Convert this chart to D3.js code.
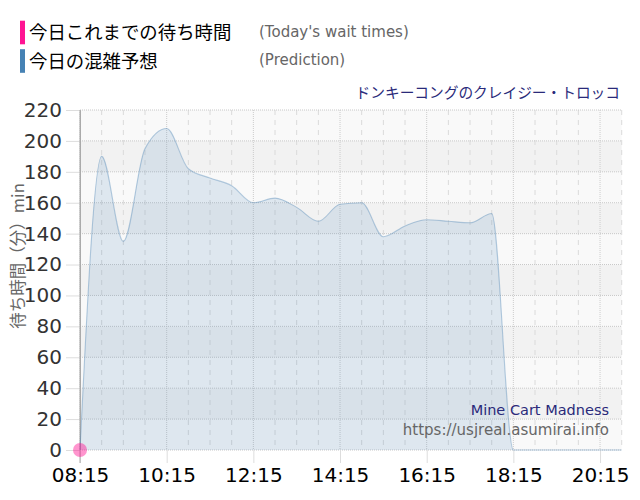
<!DOCTYPE html>
<html>
<head>
<meta charset="utf-8">
<script src="https://cdn.jsdelivr.net/npm/d3@7"></script>
<style>
html,body{margin:0;padding:0;background:#fff;}
svg{display:block;}
</style>
</head>
<body>
<svg id="chart" width="640" height="500"></svg>
<script>
// ---- data ----
const times = ["08:15","08:45","09:15","09:45","10:15","10:45","11:15","11:45","12:15","12:45","13:15","13:45","14:15","14:45","15:15","15:45","16:15","16:45","17:15","17:45","18:15","18:45","19:15","19:45","20:15","20:45"];
const prediction = [0,190,135,195,208,182,176,171,160,163,157,148,159,160,138,145,149,148,147,153,0,0,0,0,0,0];
const actualTimes = ["08:15"];
const actualValues = [0];
const xTickLabels = ["08:15","10:15","12:15","14:15","16:15","18:15","20:15"];
const yTicks = [0,20,40,60,80,100,120,140,160,180,200,220];
const legendJa = ["今日これまでの待ち時間","今日の混雑予想"];
const legendEn = ["(Today's wait times)","(Prediction)"];
const legendColors = ["#ff1493","#4682b4"];
const title = "ドンキーコングのクレイジー・トロッコ";
const yTitle = "待ち時間（分）min";
const watermark1 = "Mine Cart Madness";
const watermark2 = "https://usjreal.asumirai.info";

const toMin = s => { const [h,m] = s.split(":").map(Number); return h*60+m; };

const svg = d3.select("#chart");
const L = 80, R = 621.7, T = 110, B = 450;
const x = d3.scaleLinear().domain([toMin("08:15"), toMin("20:45")]).range([L, R]);
const y = d3.scaleLinear().domain([0, 220]).range([B, T]);

const latin = "'DejaVu Sans', Verdana, sans-serif";
const cjk = "'Noto Sans CJK JP', 'DejaVu Sans', sans-serif";

// background bands
const bands = d3.range(0, 220, 20);
svg.append("g").selectAll("rect").data(bands).join("rect")
  .attr("x", L).attr("width", R - L)
  .attr("y", d => y(d + 20)).attr("height", d => y(d) - y(d + 20))
  .attr("fill", (d, i) => i % 2 === 0 ? "#f9f9f9" : "#f2f2f2");

// vertical dashed grid every 30 min
const halfHours = d3.range(toMin("08:15"), toMin("20:45") + 1, 30);
svg.append("g").selectAll("line").data(halfHours.filter((d,i)=> i%4!==0)).join("line")
  .attr("x1", d => x(d)).attr("x2", d => x(d)).attr("y1", T).attr("y2", B)
  .attr("stroke", "#dadada").attr("stroke-width", 1).attr("stroke-dasharray", "5,5");

// vertical dotted grid at label ticks
svg.append("g").selectAll("line").data(xTickLabels.map(toMin)).join("line")
  .attr("x1", d => x(d)).attr("x2", d => x(d)).attr("y1", T).attr("y2", B)
  .attr("stroke", "#cccccc").attr("stroke-width", 1).attr("stroke-dasharray", "1,1");

// horizontal dotted grid
svg.append("g").selectAll("line").data(yTicks).join("line")
  .attr("x1", L).attr("x2", R).attr("y1", d => y(d)).attr("y2", d => y(d))
  .attr("stroke", "#c8c8c8").attr("stroke-width", 1).attr("stroke-dasharray", "1,1");

// y axis
const yAxis = svg.append("g").attr("transform", `translate(${L},0)`)
  .call(d3.axisLeft(y).tickValues(yTicks).tickSize(14).tickPadding(4));
yAxis.select(".domain").attr("stroke", "#aaaaaa");
yAxis.selectAll(".tick line").attr("stroke", "#dddddd");
yAxis.selectAll("text").attr("font-family", latin).attr("font-size", 20).attr("fill", "#333");

// x axis
const xAxis = svg.append("g").attr("transform", `translate(0,${B})`)
  .call(d3.axisBottom(x).tickValues(xTickLabels.map(toMin)).tickSize(13).tickPadding(5)
    .tickFormat((d, i) => xTickLabels[i]));
xAxis.select(".domain").remove();
xAxis.selectAll(".tick line").attr("stroke", "#dddddd");
xAxis.selectAll("text").attr("font-family", latin).attr("font-size", 20).attr("fill", "#000");

// left axis line extending
svg.append("line").attr("x1", L).attr("x2", L).attr("y1", T).attr("y2", B + 13)
  .attr("stroke", "#aaaaaa");

// prediction area
const pts = times.map((t, i) => ({t: toMin(t), v: prediction[i]}));
const area = d3.area().x(d => x(d.t)).y0(y(0)).y1(d => y(d.v)).curve(d3.curveMonotoneX);
const line = d3.line().x(d => x(d.t)).y(d => y(d.v)).curve(d3.curveMonotoneX);
svg.append("path").datum(pts).attr("d", area).attr("fill", "rgba(70,130,180,0.15)");
svg.append("path").datum(pts).attr("d", line).attr("fill", "none")
  .attr("stroke", "rgba(70,130,180,0.38)").attr("stroke-width", 1.1);

// actual points
svg.append("g").selectAll("circle").data(actualTimes.map((t,i)=>({t:toMin(t), v:actualValues[i]}))).join("circle")
  .attr("cx", d => x(d.t)).attr("cy", d => y(d.v)).attr("r", 7)
  .attr("fill", "rgba(255,20,147,0.45)");

// legend
const lg = svg.append("g");
legendJa.forEach((txt, i) => {
  const cy = 32.5 + i * 28.5;
  lg.append("rect").attr("x", 20).attr("y", cy - 11.8).attr("width", 5).attr("height", 23.6)
    .attr("fill", legendColors[i]);
  lg.append("text").attr("x", 29).attr("y", cy).attr("dy", "0.36em")
    .attr("font-family", cjk).attr("font-size", 18.4).attr("fill", "#000").text(txt);
  lg.append("text").attr("x", 259).attr("y", cy - 1).attr("dy", "0.36em")
    .attr("font-family", latin).attr("font-size", 15).attr("fill", "#666").text(legendEn[i]);
});

// title
svg.append("text").attr("x", 620).attr("y", 92.5).attr("dy", "0.36em").attr("text-anchor", "end")
  .attr("font-family", cjk).attr("font-size", 14.7).attr("fill", "#2a2a7a").text(title);

// y axis title
svg.append("text").attr("transform", `translate(18.5,256) rotate(-90)`)
  .attr("text-anchor", "middle").attr("dy", "0.36em")
  .attr("font-family", cjk).attr("font-size", 16.5).attr("fill", "#666").text(yTitle);

// watermark
svg.append("text").attr("x", 609).attr("y", 410).attr("dy", "0.36em").attr("text-anchor", "end")
  .attr("font-family", latin).attr("font-size", 14.5).attr("fill", "#2a2a7a").text(watermark1);
svg.append("text").attr("x", 609).attr("y", 430).attr("dy", "0.36em").attr("text-anchor", "end")
  .attr("font-family", latin).attr("font-size", 15).attr("fill", "#666").text(watermark2);
</script>
</body>
</html>
